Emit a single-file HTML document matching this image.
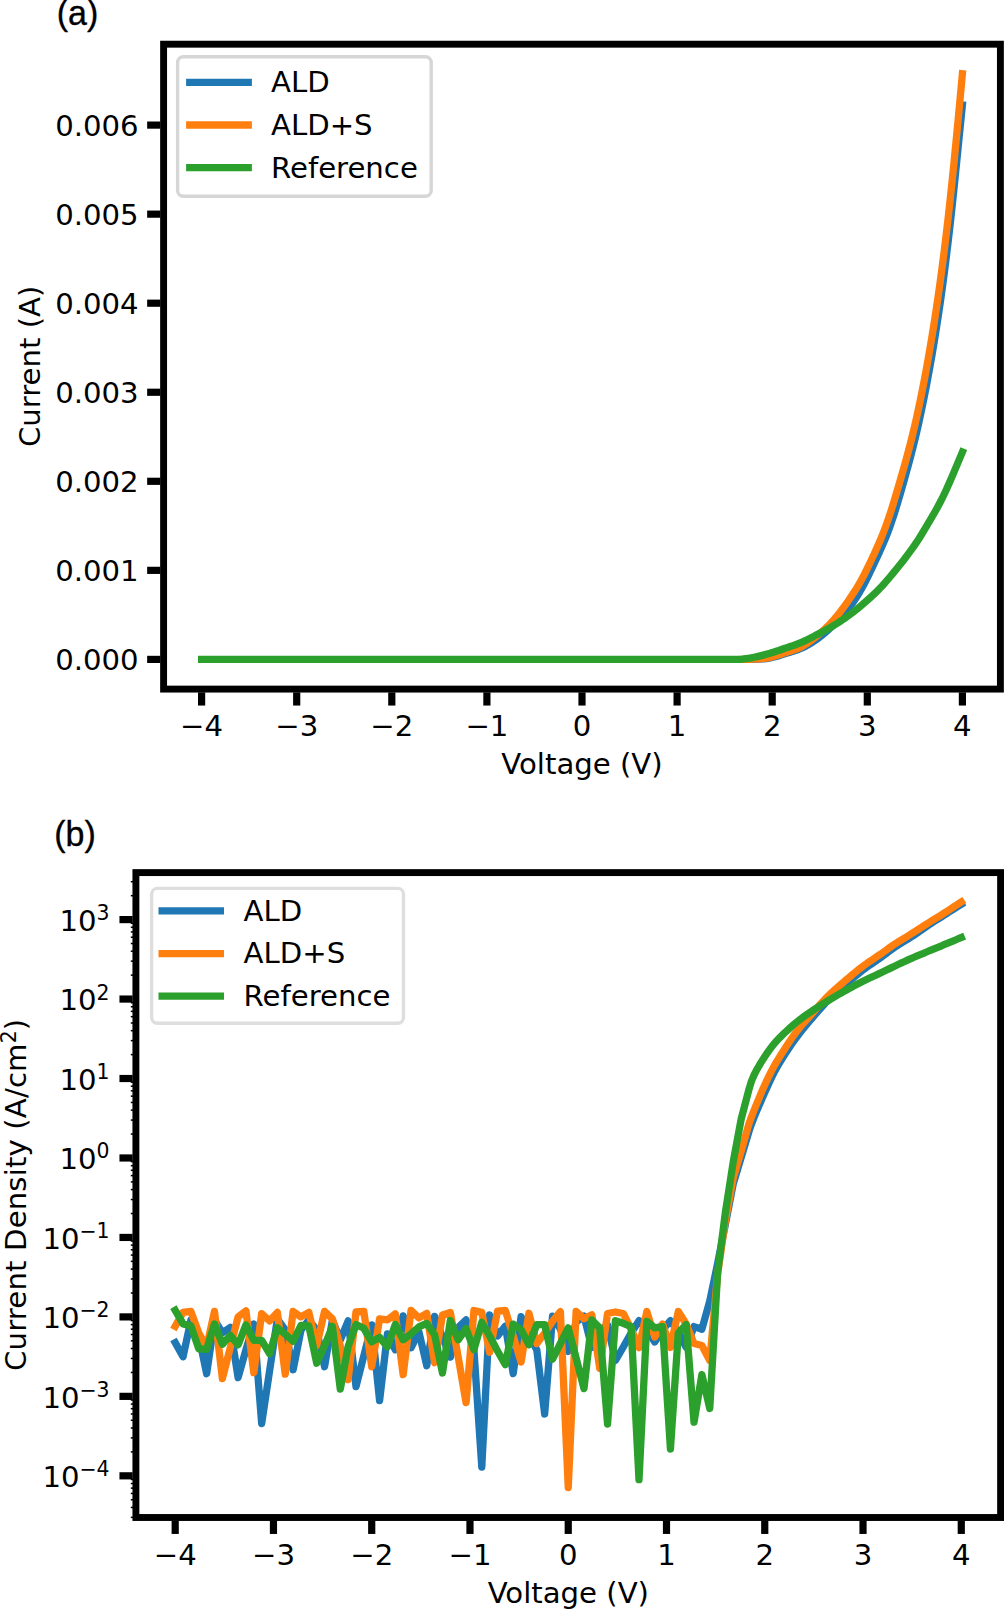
<!DOCTYPE html>
<html lang="en"><head><meta charset="utf-8"><title>IV curves</title>
<style>html,body{margin:0;padding:0;background:#fff}svg{display:block}</style></head>
<body>
<svg width="1004" height="1609" viewBox="0 0 1004 1609">
<rect width="1004" height="1609" fill="#fff"/>
<polyline points="745,659.4 746.16,659.4 748.16,659.39 750.16,659.37 752.16,659.34 754.16,659.31 756.16,659.27 758.16,659.2 760.16,659.1 762.16,658.97 764.16,658.8 766.16,658.58 768.16,658.32 770.16,657.98 772.16,657.54 774.16,657.06 776.16,656.5 778.16,655.89 780.16,655.24 782.16,654.59 784.16,653.95 786.16,653.33 788.16,652.72 790.16,652.13 792.16,651.52 794.16,650.9 796.16,650.23 798.16,649.51 800.16,648.72 802.16,647.86 804.16,646.91 806.16,645.89 808.16,644.79 810.16,643.62 812.16,642.38 814.16,641.07 816.16,639.69 818.16,638.24 820.16,636.71 822.16,635.1 824.16,633.43 826.16,631.69 828.16,629.92 830.16,628.1 832.16,626.26 834.16,624.39 836.16,622.47 838.16,620.5 840.16,618.45 842.16,616.3 844.16,614.04 846.16,611.65 848.16,609.13 850.16,606.47 852.16,603.67 854.16,600.73 856.16,597.66 858.16,594.46 860.16,591.11 862.16,587.6 864.16,583.92 866.16,580.07 868.16,576.07 870.16,571.96 872.16,567.77 874.16,563.53 876.16,559.27 878.16,554.96 880.16,550.58 882.16,546.07 884.16,541.39 886.16,536.5 888.16,531.35 890.16,525.92 892.16,520.16 894.16,514.09 896.16,507.7 898.16,501.06 900.16,494.22 902.16,487.26 904.16,480.19 906.16,473.04 908.16,465.76 910.16,458.31 912.16,450.62 914.16,442.64 916.16,434.31 918.16,425.61 920.16,416.53 922.16,407.06 924.16,397.23 926.16,387.03 928.16,376.44 930.16,365.45 932.16,354.02 934.16,342.12 936.16,329.71 938.16,316.74 940.16,303.16 942.16,288.9 944.16,273.94 946.16,258.21 948.16,241.68 950.16,224.29 952.16,206.03 954.16,186.96 956.16,167.25 958.16,147.16 960.16,127.04 962.16,107.26 962.4,104.92" fill="none" stroke="#1f77b4" stroke-width="7.3" stroke-linecap="square" stroke-linejoin="round"/>
<polyline points="745,659.4 746.16,659.38 748.16,659.33 750.16,659.27 752.16,659.19 754.16,659.1 756.16,659 758.16,658.88 760.16,658.74 762.16,658.58 764.16,658.38 766.16,658.13 768.16,657.82 770.16,657.39 772.16,656.89 774.16,656.35 776.16,655.75 778.16,655.1 780.16,654.44 782.16,653.78 784.16,653.12 786.16,652.48 788.16,651.86 790.16,651.22 792.16,650.57 794.16,649.89 796.16,649.15 798.16,648.33 800.16,647.41 802.16,646.39 804.16,645.25 806.16,644 808.16,642.66 810.16,641.22 812.16,639.73 814.16,638.17 816.16,636.57 818.16,634.93 820.16,633.23 822.16,631.47 824.16,629.65 826.16,627.75 828.16,625.78 830.16,623.72 832.16,621.56 834.16,619.31 836.16,616.96 838.16,614.5 840.16,611.95 842.16,609.32 844.16,606.61 846.16,603.82 848.16,600.98 850.16,598.06 852.16,595.07 854.16,592 856.16,588.82 858.16,585.52 860.16,582.08 862.16,578.47 864.16,574.68 866.16,570.73 868.16,566.64 870.16,562.46 872.16,558.22 874.16,553.93 876.16,549.57 878.16,545.09 880.16,540.45 882.16,535.6 884.16,530.52 886.16,525.16 888.16,519.51 890.16,513.55 892.16,507.31 894.16,500.82 896.16,494.17 898.16,487.4 900.16,480.55 902.16,473.63 904.16,466.61 906.16,459.45 908.16,452.08 910.16,444.45 912.16,436.49 914.16,428.16 916.16,419.46 918.16,410.37 920.16,400.89 922.16,391.03 924.16,380.78 926.16,370.12 928.16,359.02 930.16,347.48 932.16,335.45 934.16,322.93 936.16,309.85 938.16,296.21 940.16,281.94 942.16,267.02 944.16,251.4 946.16,235.02 948.16,217.8 950.16,199.7 952.16,180.72 954.16,160.94 956.16,140.48 958.16,119.49 960.16,98.1 962.16,76.41 962.4,73.8" fill="none" stroke="#ff7f0e" stroke-width="7.3" stroke-linecap="square" stroke-linejoin="round"/>
<polyline points="201.6,659.4 209.21,659.4 216.82,659.4 224.42,659.4 232.03,659.4 239.64,659.4 247.25,659.4 254.86,659.4 262.46,659.4 270.07,659.4 277.68,659.4 285.29,659.4 292.9,659.4 300.5,659.4 308.11,659.4 315.72,659.4 323.33,659.4 330.94,659.4 338.54,659.4 346.15,659.4 353.76,659.4 361.37,659.4 368.98,659.4 376.58,659.4 384.19,659.4 391.8,659.4 399.41,659.4 407.02,659.4 414.62,659.4 422.23,659.4 429.84,659.4 437.45,659.4 445.06,659.4 452.66,659.4 460.27,659.4 467.88,659.4 475.49,659.4 483.1,659.4 490.7,659.4 498.31,659.4 505.92,659.4 513.53,659.4 521.14,659.4 528.74,659.4 536.35,659.4 543.96,659.4 551.57,659.4 559.18,659.4 566.78,659.4 574.39,659.4 582,659.4 589.61,659.4 597.22,659.4 604.82,659.4 612.43,659.4 620.04,659.4 627.65,659.4 635.26,659.4 642.86,659.4 650.47,659.4 658.08,659.4 665.69,659.4 673.3,659.4 680.9,659.4 688.51,659.4 696.12,659.4 703.73,659.4 711.34,659.4 718.94,659.4 726.55,659.4 734.16,659.39 736.16,659.37 738.16,659.34 740.16,659.27 742.16,659.14 744.16,658.95 746.16,658.7 748.16,658.41 750.16,658.08 752.16,657.71 754.16,657.29 756.16,656.84 758.16,656.38 760.16,655.89 762.16,655.4 764.16,654.88 766.16,654.34 768.16,653.78 770.16,653.19 772.16,652.57 774.16,651.93 776.16,651.27 778.16,650.6 780.16,649.92 782.16,649.25 784.16,648.57 786.16,647.9 788.16,647.24 790.16,646.57 792.16,645.89 794.16,645.19 796.16,644.46 798.16,643.7 800.16,642.89 802.16,642.03 804.16,641.13 806.16,640.18 808.16,639.19 810.16,638.18 812.16,637.15 814.16,636.12 816.16,635.08 818.16,634.04 820.16,633 822.16,631.95 824.16,630.89 826.16,629.81 828.16,628.71 830.16,627.58 832.16,626.42 834.16,625.22 836.16,623.99 838.16,622.72 840.16,621.43 842.16,620.09 844.16,618.73 846.16,617.32 848.16,615.88 850.16,614.4 852.16,612.89 854.16,611.33 856.16,609.74 858.16,608.11 860.16,606.45 862.16,604.77 864.16,603.05 866.16,601.32 868.16,599.55 870.16,597.75 872.16,595.91 874.16,594.03 876.16,592.1 878.16,590.1 880.16,588.04 882.16,585.91 884.16,583.71 886.16,581.45 888.16,579.13 890.16,576.76 892.16,574.35 894.16,571.92 896.16,569.46 898.16,566.98 900.16,564.48 902.16,561.95 904.16,559.39 906.16,556.78 908.16,554.13 910.16,551.43 912.16,548.67 914.16,545.84 916.16,542.93 918.16,539.91 920.16,536.77 922.16,533.53 924.16,530.2 926.16,526.82 928.16,523.44 930.16,520.07 932.16,516.69 934.16,513.26 936.16,509.74 938.16,506.09 940.16,502.31 942.16,498.37 944.16,494.27 946.16,490 948.16,485.58 950.16,481.02 952.16,476.37 954.16,471.65 956.16,466.89 958.16,462.13 960.16,457.35 962.16,452.58 962.4,452" fill="none" stroke="#2ca02c" stroke-width="7.3" stroke-linecap="square" stroke-linejoin="round"/>
<rect x="163.6" y="44.2" width="836.8" height="644.9" fill="none" stroke="#000" stroke-width="6.9"/>
<line x1="201.6" y1="692.35" x2="201.6" y2="705.55" stroke="#000" stroke-width="7.2" stroke-linecap="butt"/>
<text x="201.6" y="736.3" font-size="29.17" text-anchor="middle" font-family="'DejaVu Sans','Liberation Sans',sans-serif" >−4</text>
<line x1="296.7" y1="692.35" x2="296.7" y2="705.55" stroke="#000" stroke-width="7.2" stroke-linecap="butt"/>
<text x="296.7" y="736.3" font-size="29.17" text-anchor="middle" font-family="'DejaVu Sans','Liberation Sans',sans-serif" >−3</text>
<line x1="391.8" y1="692.35" x2="391.8" y2="705.55" stroke="#000" stroke-width="7.2" stroke-linecap="butt"/>
<text x="391.8" y="736.3" font-size="29.17" text-anchor="middle" font-family="'DejaVu Sans','Liberation Sans',sans-serif" >−2</text>
<line x1="486.9" y1="692.35" x2="486.9" y2="705.55" stroke="#000" stroke-width="7.2" stroke-linecap="butt"/>
<text x="486.9" y="736.3" font-size="29.17" text-anchor="middle" font-family="'DejaVu Sans','Liberation Sans',sans-serif" >−1</text>
<line x1="582" y1="692.35" x2="582" y2="705.55" stroke="#000" stroke-width="7.2" stroke-linecap="butt"/>
<text x="582" y="736.3" font-size="29.17" text-anchor="middle" font-family="'DejaVu Sans','Liberation Sans',sans-serif" >0</text>
<line x1="677.1" y1="692.35" x2="677.1" y2="705.55" stroke="#000" stroke-width="7.2" stroke-linecap="butt"/>
<text x="677.1" y="736.3" font-size="29.17" text-anchor="middle" font-family="'DejaVu Sans','Liberation Sans',sans-serif" >1</text>
<line x1="772.2" y1="692.35" x2="772.2" y2="705.55" stroke="#000" stroke-width="7.2" stroke-linecap="butt"/>
<text x="772.2" y="736.3" font-size="29.17" text-anchor="middle" font-family="'DejaVu Sans','Liberation Sans',sans-serif" >2</text>
<line x1="867.3" y1="692.35" x2="867.3" y2="705.55" stroke="#000" stroke-width="7.2" stroke-linecap="butt"/>
<text x="867.3" y="736.3" font-size="29.17" text-anchor="middle" font-family="'DejaVu Sans','Liberation Sans',sans-serif" >3</text>
<line x1="962.4" y1="692.35" x2="962.4" y2="705.55" stroke="#000" stroke-width="7.2" stroke-linecap="butt"/>
<text x="962.4" y="736.3" font-size="29.17" text-anchor="middle" font-family="'DejaVu Sans','Liberation Sans',sans-serif" >4</text>
<line x1="160.35" y1="659.4" x2="147.15" y2="659.4" stroke="#000" stroke-width="7.2" stroke-linecap="butt"/>
<text x="138.6" y="670.3" font-size="29.17" text-anchor="end" font-family="'DejaVu Sans','Liberation Sans',sans-serif" >0.000</text>
<line x1="160.35" y1="570.35" x2="147.15" y2="570.35" stroke="#000" stroke-width="7.2" stroke-linecap="butt"/>
<text x="138.6" y="581.25" font-size="29.17" text-anchor="end" font-family="'DejaVu Sans','Liberation Sans',sans-serif" >0.001</text>
<line x1="160.35" y1="481.3" x2="147.15" y2="481.3" stroke="#000" stroke-width="7.2" stroke-linecap="butt"/>
<text x="138.6" y="492.2" font-size="29.17" text-anchor="end" font-family="'DejaVu Sans','Liberation Sans',sans-serif" >0.002</text>
<line x1="160.35" y1="392.25" x2="147.15" y2="392.25" stroke="#000" stroke-width="7.2" stroke-linecap="butt"/>
<text x="138.6" y="403.15" font-size="29.17" text-anchor="end" font-family="'DejaVu Sans','Liberation Sans',sans-serif" >0.003</text>
<line x1="160.35" y1="303.2" x2="147.15" y2="303.2" stroke="#000" stroke-width="7.2" stroke-linecap="butt"/>
<text x="138.6" y="314.1" font-size="29.17" text-anchor="end" font-family="'DejaVu Sans','Liberation Sans',sans-serif" >0.004</text>
<line x1="160.35" y1="214.15" x2="147.15" y2="214.15" stroke="#000" stroke-width="7.2" stroke-linecap="butt"/>
<text x="138.6" y="225.05" font-size="29.17" text-anchor="end" font-family="'DejaVu Sans','Liberation Sans',sans-serif" >0.005</text>
<line x1="160.35" y1="125.1" x2="147.15" y2="125.1" stroke="#000" stroke-width="7.2" stroke-linecap="butt"/>
<text x="138.6" y="136" font-size="29.17" text-anchor="end" font-family="'DejaVu Sans','Liberation Sans',sans-serif" >0.006</text>
<text x="582" y="774.2" font-size="29.17" text-anchor="middle" font-family="'DejaVu Sans','Liberation Sans',sans-serif" >Voltage (V)</text>
<text transform="translate(39.5,366.3) rotate(-90)" font-size="29.17" text-anchor="middle" font-family="'DejaVu Sans','Liberation Sans',sans-serif">Current (A)</text>
<text transform="translate(56.7,24.9) scale(1,1.045)" font-size="34" font-family="'Liberation Sans','DejaVu Sans',sans-serif" stroke="#000" stroke-width="0.35">(a)</text>
<rect x="177.6" y="56.7" width="253.6" height="139.6" rx="5.8" ry="5.8" fill="#fff" fill-opacity="0.8" stroke="#d6d6d6" stroke-width="3.4"/>
<line x1="186.1" y1="82.4" x2="251.9" y2="82.4" stroke="#1f77b4" stroke-width="7.3" stroke-linecap="butt"/>
<text x="271" y="91.8" font-size="29.17" text-anchor="start" font-family="'DejaVu Sans','Liberation Sans',sans-serif" >ALD</text>
<line x1="186.1" y1="125" x2="251.9" y2="125" stroke="#ff7f0e" stroke-width="7.3" stroke-linecap="butt"/>
<text x="271" y="134.7" font-size="29.17" text-anchor="start" font-family="'DejaVu Sans','Liberation Sans',sans-serif" >ALD+S</text>
<line x1="186.1" y1="167.7" x2="251.9" y2="167.7" stroke="#2ca02c" stroke-width="7.3" stroke-linecap="butt"/>
<text x="271" y="177.5" font-size="29.17" text-anchor="start" font-family="'DejaVu Sans','Liberation Sans',sans-serif" >Reference</text>
<polyline points="175.2,1342.6 183.06,1356.7 190.92,1319.9 198.78,1336 206.64,1373.7 214.5,1319.9 222.37,1332.8 230.23,1327.4 238.09,1377.6 245.95,1349.8 253.81,1323.9 261.67,1423.5 269.53,1371.2 277.39,1318.9 285.25,1329.8 293.12,1369.7 300.98,1330 308.84,1319.9 316.7,1330 324.56,1366.7 332.42,1320 340.28,1340 348.14,1320.9 356,1386.6 363.86,1355.7 371.73,1324.9 379.59,1400.6 387.45,1333.8 395.31,1349.8 403.17,1315.9 411.03,1347.8 418.89,1331.8 426.75,1365.7 434.61,1316.4 442.47,1337 450.33,1357.2 458.2,1327.3 466.06,1319.9 473.92,1349.7 481.78,1467 489.64,1314.9 497.5,1336 505.36,1326 513.22,1373.6 521.08,1316.7 528.94,1334.4 536.81,1350 544.67,1414 552.53,1316.1 560.39,1329 568.25,1351.4 576.11,1322 583.97,1316.1 591.83,1347.4 599.69,1330 607.55,1325 615.42,1360.5 623.28,1347 631.14,1333 639,1320.7 646.86,1330 654.72,1342 662.58,1330 670.44,1320.7 678.3,1332 686.16,1347.4 694.03,1326.6 701.89,1329.2 709.75,1300.99 717.61,1263.52 725.47,1223.72 733.33,1183.4 741.19,1157.55 749.05,1131.09 751.55,1123.81 754.05,1117.36 756.55,1111.43 759.05,1105.64 761.55,1099.83 764.05,1094.11 766.55,1088.44 769.05,1082.91 771.55,1077.61 774.05,1072.64 776.55,1068.01 779.05,1063.68 781.55,1059.58 784.05,1055.63 786.55,1051.78 789.05,1048 791.55,1044.32 794.05,1040.75 796.55,1037.31 799.05,1034.02 801.55,1030.84 804.05,1027.76 806.55,1024.74 809.05,1021.77 811.55,1018.82 814.05,1015.88 816.55,1012.95 819.05,1010.06 821.55,1007.23 824.05,1004.48 826.55,1001.84 829.05,999.32 831.55,996.91 834.05,994.59 836.55,992.35 839.05,990.16 841.55,987.99 844.05,985.83 846.55,983.67 849.05,981.51 851.55,979.35 854.05,977.22 856.55,975.13 859.05,973.09 861.55,971.11 864.05,969.2 866.55,967.38 869.05,965.62 871.55,963.9 874.05,962.21 876.55,960.5 879.05,958.76 881.55,956.97 884.05,955.14 886.55,953.27 889.05,951.41 891.55,949.57 894.05,947.79 896.55,946.09 899.05,944.47 901.55,942.91 904.05,941.39 906.55,939.88 909.05,938.35 911.55,936.76 914.05,935.12 916.55,933.42 919.05,931.68 921.55,929.93 924.05,928.18 926.55,926.46 929.05,924.78 931.55,923.15 934.05,921.54 936.55,919.96 939.05,918.39 941.55,916.82 944.05,915.24 946.55,913.64 949.05,912.04 951.55,910.43 954.05,908.83 956.55,907.25 959.05,905.67 961.3,904.28" fill="none" stroke="#1f77b4" stroke-width="7.3" stroke-linecap="square" stroke-linejoin="round"/>
<polyline points="175.2,1326.4 183.06,1312.4 190.92,1311.4 198.78,1333 206.64,1347 214.5,1311.4 222.37,1378.6 230.23,1347.8 238.09,1316.9 245.95,1310.9 253.81,1372.7 261.67,1313.6 269.53,1320.9 277.39,1312.4 285.25,1374.2 293.12,1311.4 300.98,1316.9 308.84,1312.4 316.7,1345.8 324.56,1311.4 332.42,1318.9 340.28,1345.8 348.14,1379.6 356,1312 363.86,1311.4 371.73,1366.7 379.59,1318.9 387.45,1319.9 395.31,1313.9 403.17,1374.7 411.03,1310.4 418.89,1317.9 426.75,1313.4 434.61,1362.7 442.47,1314.9 450.33,1312.4 458.2,1357.2 466.06,1402.6 473.92,1310.5 481.78,1312.4 489.64,1352.2 497.5,1311.1 505.36,1310.5 513.22,1336 521.08,1362.1 528.94,1313.3 536.81,1343.5 544.67,1333.1 552.53,1321.3 560.39,1311.5 568.25,1487.5 576.11,1311.5 583.97,1318.7 591.83,1314.8 599.69,1368.3 607.55,1313.5 615.42,1312 623.28,1313.5 631.14,1329 639,1347.7 646.86,1311.5 654.72,1337 662.58,1324 670.44,1347.4 678.3,1311.5 686.16,1324 694.03,1343.5 701.89,1345.5 709.75,1360.5 717.61,1274.25 725.47,1220.08 733.33,1177.68 741.19,1151.19 749.05,1123.45 751.55,1116.62 754.05,1110.27 756.55,1104.11 759.05,1098.01 761.55,1092.14 764.05,1086.51 766.55,1081.03 769.05,1075.81 771.55,1070.87 774.05,1066.24 776.55,1061.89 779.05,1057.77 781.55,1053.8 784.05,1049.92 786.55,1046.09 789.05,1042.3 791.55,1038.58 794.05,1035 796.55,1031.6 799.05,1028.42 801.55,1025.41 804.05,1022.54 806.55,1019.75 809.05,1016.98 811.55,1014.2 814.05,1011.38 816.55,1008.54 819.05,1005.7 821.55,1002.89 824.05,1000.17 826.55,997.54 829.05,995.04 831.55,992.65 834.05,990.37 836.55,988.16 839.05,986 841.55,983.86 844.05,981.74 846.55,979.61 849.05,977.49 851.55,975.37 854.05,973.28 856.55,971.22 859.05,969.22 861.55,967.27 864.05,965.4 866.55,963.59 869.05,961.85 871.55,960.16 874.05,958.49 876.55,956.82 879.05,955.12 881.55,953.39 884.05,951.63 886.55,949.86 889.05,948.08 891.55,946.32 894.05,944.61 896.55,942.95 899.05,941.35 901.55,939.8 904.05,938.28 906.55,936.77 909.05,935.25 911.55,933.71 914.05,932.14 916.55,930.54 919.05,928.92 921.55,927.29 924.05,925.67 926.55,924.07 929.05,922.49 931.55,920.93 934.05,919.39 936.55,917.86 939.05,916.33 941.55,914.78 944.05,913.2 946.55,911.6 949.05,909.96 951.55,908.32 954.05,906.67 956.55,905.03 959.05,903.4 961.3,901.97" fill="none" stroke="#ff7f0e" stroke-width="7.3" stroke-linecap="square" stroke-linejoin="round"/>
<polyline points="175.2,1310.3 183.06,1323.9 190.92,1325.9 198.78,1348.8 206.64,1349.3 214.5,1323.9 222.37,1344.3 230.23,1335.3 238.09,1344.8 245.95,1324.9 253.81,1340.3 261.67,1340.3 269.53,1353.7 277.39,1327.8 285.25,1334.3 293.12,1341.3 300.98,1325.4 308.84,1325.9 316.7,1363.2 324.56,1345.8 332.42,1326.4 340.28,1389.1 348.14,1346.5 356,1324.5 363.86,1328.3 371.73,1341.8 379.59,1337.3 387.45,1346.8 395.31,1324.4 403.17,1339.8 411.03,1333.8 418.89,1326.9 426.75,1323.4 434.61,1334.8 442.47,1373 450.33,1320.5 458.2,1339.8 466.06,1328.6 473.92,1349.7 481.78,1322.3 489.64,1336 497.5,1351 505.36,1364.6 513.22,1324.2 521.08,1329.8 528.94,1344.8 536.81,1324.6 544.67,1324.6 552.53,1359.2 560.39,1343.5 568.25,1327.9 576.11,1357.9 583.97,1388.6 591.83,1320 599.69,1327.9 607.55,1424 615.42,1320.7 623.28,1323.3 631.14,1326.6 639,1479.7 646.86,1321.3 654.72,1327.9 662.58,1326.6 670.44,1449 678.3,1333.1 686.16,1324.6 694.03,1422.1 701.89,1374.6 709.75,1408.5 717.61,1272.94 725.47,1211.8 733.33,1161.2 741.19,1119 749.05,1088.98 751.55,1080.84 754.05,1075.02 756.55,1070.11 759.05,1065.73 761.55,1061.65 764.05,1057.73 766.55,1053.93 769.05,1050.33 771.55,1046.97 774.05,1043.86 776.55,1041.01 779.05,1038.35 781.55,1035.83 784.05,1033.41 786.55,1031.04 789.05,1028.73 791.55,1026.48 794.05,1024.31 796.55,1022.24 799.05,1020.26 801.55,1018.37 804.05,1016.54 806.55,1014.77 809.05,1013.04 811.55,1011.33 814.05,1009.64 816.55,1007.97 819.05,1006.32 821.55,1004.7 824.05,1003.1 826.55,1001.54 829.05,1000.02 831.55,998.52 834.05,997.05 836.55,995.61 839.05,994.19 841.55,992.78 844.05,991.38 846.55,989.98 849.05,988.59 851.55,987.21 854.05,985.85 856.55,984.5 859.05,983.18 861.55,981.9 864.05,980.64 866.55,979.43 869.05,978.25 871.55,977.1 874.05,975.95 876.55,974.81 879.05,973.65 881.55,972.48 884.05,971.28 886.55,970.08 889.05,968.87 891.55,967.65 894.05,966.45 896.55,965.25 899.05,964.07 901.55,962.89 904.05,961.73 906.55,960.58 909.05,959.45 911.55,958.34 914.05,957.24 916.55,956.17 919.05,955.12 921.55,954.07 924.05,953.03 926.55,952 929.05,950.96 931.55,949.92 934.05,948.88 936.55,947.85 939.05,946.81 941.55,945.77 944.05,944.73 946.55,943.68 949.05,942.64 951.55,941.6 954.05,940.55 956.55,939.5 959.05,938.45 961.3,937.5" fill="none" stroke="#2ca02c" stroke-width="7.3" stroke-linecap="square" stroke-linejoin="round"/>
<rect x="135.9" y="872.6" width="864.7" height="644.9" fill="none" stroke="#000" stroke-width="6.9"/>
<line x1="175.2" y1="1520.75" x2="175.2" y2="1533.95" stroke="#000" stroke-width="7.2" stroke-linecap="butt"/>
<text x="175.2" y="1565.2" font-size="29.17" text-anchor="middle" font-family="'DejaVu Sans','Liberation Sans',sans-serif" >−4</text>
<line x1="273.46" y1="1520.75" x2="273.46" y2="1533.95" stroke="#000" stroke-width="7.2" stroke-linecap="butt"/>
<text x="273.46" y="1565.2" font-size="29.17" text-anchor="middle" font-family="'DejaVu Sans','Liberation Sans',sans-serif" >−3</text>
<line x1="371.72" y1="1520.75" x2="371.72" y2="1533.95" stroke="#000" stroke-width="7.2" stroke-linecap="butt"/>
<text x="371.72" y="1565.2" font-size="29.17" text-anchor="middle" font-family="'DejaVu Sans','Liberation Sans',sans-serif" >−2</text>
<line x1="469.98" y1="1520.75" x2="469.98" y2="1533.95" stroke="#000" stroke-width="7.2" stroke-linecap="butt"/>
<text x="469.98" y="1565.2" font-size="29.17" text-anchor="middle" font-family="'DejaVu Sans','Liberation Sans',sans-serif" >−1</text>
<line x1="568.24" y1="1520.75" x2="568.24" y2="1533.95" stroke="#000" stroke-width="7.2" stroke-linecap="butt"/>
<text x="568.24" y="1565.2" font-size="29.17" text-anchor="middle" font-family="'DejaVu Sans','Liberation Sans',sans-serif" >0</text>
<line x1="666.5" y1="1520.75" x2="666.5" y2="1533.95" stroke="#000" stroke-width="7.2" stroke-linecap="butt"/>
<text x="666.5" y="1565.2" font-size="29.17" text-anchor="middle" font-family="'DejaVu Sans','Liberation Sans',sans-serif" >1</text>
<line x1="764.76" y1="1520.75" x2="764.76" y2="1533.95" stroke="#000" stroke-width="7.2" stroke-linecap="butt"/>
<text x="764.76" y="1565.2" font-size="29.17" text-anchor="middle" font-family="'DejaVu Sans','Liberation Sans',sans-serif" >2</text>
<line x1="863.02" y1="1520.75" x2="863.02" y2="1533.95" stroke="#000" stroke-width="7.2" stroke-linecap="butt"/>
<text x="863.02" y="1565.2" font-size="29.17" text-anchor="middle" font-family="'DejaVu Sans','Liberation Sans',sans-serif" >3</text>
<line x1="961.28" y1="1520.75" x2="961.28" y2="1533.95" stroke="#000" stroke-width="7.2" stroke-linecap="butt"/>
<text x="961.28" y="1565.2" font-size="29.17" text-anchor="middle" font-family="'DejaVu Sans','Liberation Sans',sans-serif" >4</text>
<line x1="132.65" y1="919.6" x2="119.45" y2="919.6" stroke="#000" stroke-width="7.2" stroke-linecap="butt"/>
<text x="109.6" y="931" font-size="29.17" text-anchor="end" font-family="'DejaVu Sans','Liberation Sans',sans-serif">10<tspan dy="-10.9" font-size="20.4">3</tspan></text>
<line x1="132.65" y1="999.06" x2="119.45" y2="999.06" stroke="#000" stroke-width="7.2" stroke-linecap="butt"/>
<text x="109.6" y="1010.46" font-size="29.17" text-anchor="end" font-family="'DejaVu Sans','Liberation Sans',sans-serif">10<tspan dy="-10.9" font-size="20.4">2</tspan></text>
<line x1="132.65" y1="1078.52" x2="119.45" y2="1078.52" stroke="#000" stroke-width="7.2" stroke-linecap="butt"/>
<text x="109.6" y="1089.92" font-size="29.17" text-anchor="end" font-family="'DejaVu Sans','Liberation Sans',sans-serif">10<tspan dy="-10.9" font-size="20.4">1</tspan></text>
<line x1="132.65" y1="1157.98" x2="119.45" y2="1157.98" stroke="#000" stroke-width="7.2" stroke-linecap="butt"/>
<text x="109.6" y="1169.38" font-size="29.17" text-anchor="end" font-family="'DejaVu Sans','Liberation Sans',sans-serif">10<tspan dy="-10.9" font-size="20.4">0</tspan></text>
<line x1="132.65" y1="1237.44" x2="119.45" y2="1237.44" stroke="#000" stroke-width="7.2" stroke-linecap="butt"/>
<text x="109.6" y="1248.84" font-size="29.17" text-anchor="end" font-family="'DejaVu Sans','Liberation Sans',sans-serif">10<tspan dy="-10.9" font-size="20.4">−1</tspan></text>
<line x1="132.65" y1="1316.9" x2="119.45" y2="1316.9" stroke="#000" stroke-width="7.2" stroke-linecap="butt"/>
<text x="109.6" y="1328.3" font-size="29.17" text-anchor="end" font-family="'DejaVu Sans','Liberation Sans',sans-serif">10<tspan dy="-10.9" font-size="20.4">−2</tspan></text>
<line x1="132.65" y1="1396.36" x2="119.45" y2="1396.36" stroke="#000" stroke-width="7.2" stroke-linecap="butt"/>
<text x="109.6" y="1407.76" font-size="29.17" text-anchor="end" font-family="'DejaVu Sans','Liberation Sans',sans-serif">10<tspan dy="-10.9" font-size="20.4">−3</tspan></text>
<line x1="132.65" y1="1475.82" x2="119.45" y2="1475.82" stroke="#000" stroke-width="7.2" stroke-linecap="butt"/>
<text x="109.6" y="1487.22" font-size="29.17" text-anchor="end" font-family="'DejaVu Sans','Liberation Sans',sans-serif">10<tspan dy="-10.9" font-size="20.4">−4</tspan></text>
<line x1="135.9" y1="1517.37" x2="130.8" y2="1517.37" stroke="#000" stroke-width="1.5" stroke-linecap="butt"/>
<line x1="135.9" y1="1507.44" x2="130.8" y2="1507.44" stroke="#000" stroke-width="1.5" stroke-linecap="butt"/>
<line x1="135.9" y1="1499.74" x2="130.8" y2="1499.74" stroke="#000" stroke-width="1.5" stroke-linecap="butt"/>
<line x1="135.9" y1="1493.45" x2="130.8" y2="1493.45" stroke="#000" stroke-width="1.5" stroke-linecap="butt"/>
<line x1="135.9" y1="1488.13" x2="130.8" y2="1488.13" stroke="#000" stroke-width="1.5" stroke-linecap="butt"/>
<line x1="135.9" y1="1483.52" x2="130.8" y2="1483.52" stroke="#000" stroke-width="1.5" stroke-linecap="butt"/>
<line x1="135.9" y1="1479.46" x2="130.8" y2="1479.46" stroke="#000" stroke-width="1.5" stroke-linecap="butt"/>
<line x1="135.9" y1="1451.9" x2="130.8" y2="1451.9" stroke="#000" stroke-width="1.5" stroke-linecap="butt"/>
<line x1="135.9" y1="1437.91" x2="130.8" y2="1437.91" stroke="#000" stroke-width="1.5" stroke-linecap="butt"/>
<line x1="135.9" y1="1427.98" x2="130.8" y2="1427.98" stroke="#000" stroke-width="1.5" stroke-linecap="butt"/>
<line x1="135.9" y1="1420.28" x2="130.8" y2="1420.28" stroke="#000" stroke-width="1.5" stroke-linecap="butt"/>
<line x1="135.9" y1="1413.99" x2="130.8" y2="1413.99" stroke="#000" stroke-width="1.5" stroke-linecap="butt"/>
<line x1="135.9" y1="1408.67" x2="130.8" y2="1408.67" stroke="#000" stroke-width="1.5" stroke-linecap="butt"/>
<line x1="135.9" y1="1404.06" x2="130.8" y2="1404.06" stroke="#000" stroke-width="1.5" stroke-linecap="butt"/>
<line x1="135.9" y1="1400" x2="130.8" y2="1400" stroke="#000" stroke-width="1.5" stroke-linecap="butt"/>
<line x1="135.9" y1="1372.44" x2="130.8" y2="1372.44" stroke="#000" stroke-width="1.5" stroke-linecap="butt"/>
<line x1="135.9" y1="1358.45" x2="130.8" y2="1358.45" stroke="#000" stroke-width="1.5" stroke-linecap="butt"/>
<line x1="135.9" y1="1348.52" x2="130.8" y2="1348.52" stroke="#000" stroke-width="1.5" stroke-linecap="butt"/>
<line x1="135.9" y1="1340.82" x2="130.8" y2="1340.82" stroke="#000" stroke-width="1.5" stroke-linecap="butt"/>
<line x1="135.9" y1="1334.53" x2="130.8" y2="1334.53" stroke="#000" stroke-width="1.5" stroke-linecap="butt"/>
<line x1="135.9" y1="1329.21" x2="130.8" y2="1329.21" stroke="#000" stroke-width="1.5" stroke-linecap="butt"/>
<line x1="135.9" y1="1324.6" x2="130.8" y2="1324.6" stroke="#000" stroke-width="1.5" stroke-linecap="butt"/>
<line x1="135.9" y1="1320.54" x2="130.8" y2="1320.54" stroke="#000" stroke-width="1.5" stroke-linecap="butt"/>
<line x1="135.9" y1="1292.98" x2="130.8" y2="1292.98" stroke="#000" stroke-width="1.5" stroke-linecap="butt"/>
<line x1="135.9" y1="1278.99" x2="130.8" y2="1278.99" stroke="#000" stroke-width="1.5" stroke-linecap="butt"/>
<line x1="135.9" y1="1269.06" x2="130.8" y2="1269.06" stroke="#000" stroke-width="1.5" stroke-linecap="butt"/>
<line x1="135.9" y1="1261.36" x2="130.8" y2="1261.36" stroke="#000" stroke-width="1.5" stroke-linecap="butt"/>
<line x1="135.9" y1="1255.07" x2="130.8" y2="1255.07" stroke="#000" stroke-width="1.5" stroke-linecap="butt"/>
<line x1="135.9" y1="1249.75" x2="130.8" y2="1249.75" stroke="#000" stroke-width="1.5" stroke-linecap="butt"/>
<line x1="135.9" y1="1245.14" x2="130.8" y2="1245.14" stroke="#000" stroke-width="1.5" stroke-linecap="butt"/>
<line x1="135.9" y1="1241.08" x2="130.8" y2="1241.08" stroke="#000" stroke-width="1.5" stroke-linecap="butt"/>
<line x1="135.9" y1="1213.52" x2="130.8" y2="1213.52" stroke="#000" stroke-width="1.5" stroke-linecap="butt"/>
<line x1="135.9" y1="1199.53" x2="130.8" y2="1199.53" stroke="#000" stroke-width="1.5" stroke-linecap="butt"/>
<line x1="135.9" y1="1189.6" x2="130.8" y2="1189.6" stroke="#000" stroke-width="1.5" stroke-linecap="butt"/>
<line x1="135.9" y1="1181.9" x2="130.8" y2="1181.9" stroke="#000" stroke-width="1.5" stroke-linecap="butt"/>
<line x1="135.9" y1="1175.61" x2="130.8" y2="1175.61" stroke="#000" stroke-width="1.5" stroke-linecap="butt"/>
<line x1="135.9" y1="1170.29" x2="130.8" y2="1170.29" stroke="#000" stroke-width="1.5" stroke-linecap="butt"/>
<line x1="135.9" y1="1165.68" x2="130.8" y2="1165.68" stroke="#000" stroke-width="1.5" stroke-linecap="butt"/>
<line x1="135.9" y1="1161.62" x2="130.8" y2="1161.62" stroke="#000" stroke-width="1.5" stroke-linecap="butt"/>
<line x1="135.9" y1="1134.06" x2="130.8" y2="1134.06" stroke="#000" stroke-width="1.5" stroke-linecap="butt"/>
<line x1="135.9" y1="1120.07" x2="130.8" y2="1120.07" stroke="#000" stroke-width="1.5" stroke-linecap="butt"/>
<line x1="135.9" y1="1110.14" x2="130.8" y2="1110.14" stroke="#000" stroke-width="1.5" stroke-linecap="butt"/>
<line x1="135.9" y1="1102.44" x2="130.8" y2="1102.44" stroke="#000" stroke-width="1.5" stroke-linecap="butt"/>
<line x1="135.9" y1="1096.15" x2="130.8" y2="1096.15" stroke="#000" stroke-width="1.5" stroke-linecap="butt"/>
<line x1="135.9" y1="1090.83" x2="130.8" y2="1090.83" stroke="#000" stroke-width="1.5" stroke-linecap="butt"/>
<line x1="135.9" y1="1086.22" x2="130.8" y2="1086.22" stroke="#000" stroke-width="1.5" stroke-linecap="butt"/>
<line x1="135.9" y1="1082.16" x2="130.8" y2="1082.16" stroke="#000" stroke-width="1.5" stroke-linecap="butt"/>
<line x1="135.9" y1="1054.6" x2="130.8" y2="1054.6" stroke="#000" stroke-width="1.5" stroke-linecap="butt"/>
<line x1="135.9" y1="1040.61" x2="130.8" y2="1040.61" stroke="#000" stroke-width="1.5" stroke-linecap="butt"/>
<line x1="135.9" y1="1030.68" x2="130.8" y2="1030.68" stroke="#000" stroke-width="1.5" stroke-linecap="butt"/>
<line x1="135.9" y1="1022.98" x2="130.8" y2="1022.98" stroke="#000" stroke-width="1.5" stroke-linecap="butt"/>
<line x1="135.9" y1="1016.69" x2="130.8" y2="1016.69" stroke="#000" stroke-width="1.5" stroke-linecap="butt"/>
<line x1="135.9" y1="1011.37" x2="130.8" y2="1011.37" stroke="#000" stroke-width="1.5" stroke-linecap="butt"/>
<line x1="135.9" y1="1006.76" x2="130.8" y2="1006.76" stroke="#000" stroke-width="1.5" stroke-linecap="butt"/>
<line x1="135.9" y1="1002.7" x2="130.8" y2="1002.7" stroke="#000" stroke-width="1.5" stroke-linecap="butt"/>
<line x1="135.9" y1="975.14" x2="130.8" y2="975.14" stroke="#000" stroke-width="1.5" stroke-linecap="butt"/>
<line x1="135.9" y1="961.15" x2="130.8" y2="961.15" stroke="#000" stroke-width="1.5" stroke-linecap="butt"/>
<line x1="135.9" y1="951.22" x2="130.8" y2="951.22" stroke="#000" stroke-width="1.5" stroke-linecap="butt"/>
<line x1="135.9" y1="943.52" x2="130.8" y2="943.52" stroke="#000" stroke-width="1.5" stroke-linecap="butt"/>
<line x1="135.9" y1="937.23" x2="130.8" y2="937.23" stroke="#000" stroke-width="1.5" stroke-linecap="butt"/>
<line x1="135.9" y1="931.91" x2="130.8" y2="931.91" stroke="#000" stroke-width="1.5" stroke-linecap="butt"/>
<line x1="135.9" y1="927.3" x2="130.8" y2="927.3" stroke="#000" stroke-width="1.5" stroke-linecap="butt"/>
<line x1="135.9" y1="923.24" x2="130.8" y2="923.24" stroke="#000" stroke-width="1.5" stroke-linecap="butt"/>
<line x1="135.9" y1="895.68" x2="130.8" y2="895.68" stroke="#000" stroke-width="1.5" stroke-linecap="butt"/>
<line x1="135.9" y1="881.69" x2="130.8" y2="881.69" stroke="#000" stroke-width="1.5" stroke-linecap="butt"/>
<text x="568.3" y="1602.8" font-size="29.17" text-anchor="middle" font-family="'DejaVu Sans','Liberation Sans',sans-serif" >Voltage (V)</text>
<text transform="translate(25.5,1194.8) rotate(-90)" font-size="29.17" text-anchor="middle" letter-spacing="0.15" font-family="'DejaVu Sans','Liberation Sans',sans-serif">Current Density (A/cm<tspan dy="-10.0" font-size="20.4">2</tspan><tspan dy="10.0">)</tspan></text>
<text transform="translate(54.2,846.0) scale(1,1.045)" font-size="34" font-family="'Liberation Sans','DejaVu Sans',sans-serif" stroke="#000" stroke-width="0.35">(b)</text>
<rect x="151.6" y="888.4" width="251.9" height="134.9" rx="5.8" ry="5.8" fill="#fff" fill-opacity="0.8" stroke="#dedede" stroke-width="3.4"/>
<line x1="158.5" y1="910.8" x2="224" y2="910.8" stroke="#1f77b4" stroke-width="7.3" stroke-linecap="butt"/>
<text x="243.6" y="920.5" font-size="29.17" text-anchor="start" font-family="'DejaVu Sans','Liberation Sans',sans-serif" >ALD</text>
<line x1="158.5" y1="953.7" x2="224" y2="953.7" stroke="#ff7f0e" stroke-width="7.3" stroke-linecap="butt"/>
<text x="243.6" y="963.3" font-size="29.17" text-anchor="start" font-family="'DejaVu Sans','Liberation Sans',sans-serif" >ALD+S</text>
<line x1="158.5" y1="996.2" x2="224" y2="996.2" stroke="#2ca02c" stroke-width="7.3" stroke-linecap="butt"/>
<text x="243.6" y="1006.2" font-size="29.17" text-anchor="start" font-family="'DejaVu Sans','Liberation Sans',sans-serif" >Reference</text>
</svg>
</body></html>
